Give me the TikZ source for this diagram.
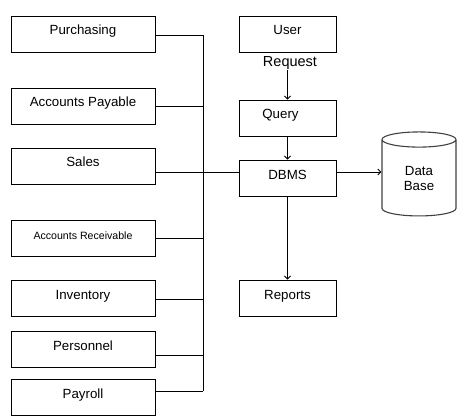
\documentclass[tikz,border=0pt]{standalone}
\usepackage{fontspec}
\setmainfont{Liberation Sans}
\usetikzlibrary{arrows.meta,shapes.geometric}
\tikzset{
    unit/.style={draw, line width=0.9pt, inner sep=0pt, text height=19pt, text depth=17pt,
        font=\fontsize{13.3}{15}\selectfont},
    dept/.style={unit, minimum width=144pt},
    step box/.style={unit, minimum width=97pt},
    >={Straight Barb[length=3pt,width=6pt]}
}
\begin{document}
\begin{tikzpicture}[x=1pt, y=-1pt, line width=0.9pt]
\useasboundingbox (0,0) rectangle (464,420);
% Departments on the left
\foreach \i/\name/\y/\ly/\fs in {
    1/Purchasing/34/35/13.3,
    2/Accounts Payable/106/106/13.3,
    3/Sales/166/172/13.3,
    4/Accounts Receivable/238/238/10.6,
    5/Inventory/298/299/13.3,
    6/Personnel/349/355/13.3,
    7/Payroll/397/391/13.3
} {
    \node[dept, font=\fontsize{\fs}{15}\selectfont] (d\i) at (83,\y) {\name};
    \coordinate (j\i) at (203,\ly);
    \draw (d\i.east |- j\i) -- (j\i);
}
\draw (j1) -- (j7);

% Request flow
\node[step box] (user) at (287.5,34) {User};
\node[inner sep=0pt, anchor=base, font=\fontsize{14.5}{16}\selectfont] (req) at (290,66.7) {Request};
\node[step box] (query) at (287.5,118) {\hspace*{-14pt}Query};
\node[step box] (dbms) at (287.5,178) {DBMS};
\node[step box] (reports) at (287.5,298) {Reports};
\node[cylinder, shape border rotate=90, draw=black!75, line width=1.1pt, aspect=0.5,
    minimum width=74pt, minimum height=84pt, align=center, inner sep=0pt,
    font=\fontsize{13.3}{15}\selectfont] (db) at (419,178) {Data\\Base};

\draw[->] (req.south -| query) -- (query);
\draw[->] (query) -- (dbms);
\draw[->] (dbms) -- (reports);
\draw (j3) -- (dbms.west |- j3);
\draw[->] (dbms.east |- j3) -- (db.west |- j3);
\end{tikzpicture}
\end{document}
